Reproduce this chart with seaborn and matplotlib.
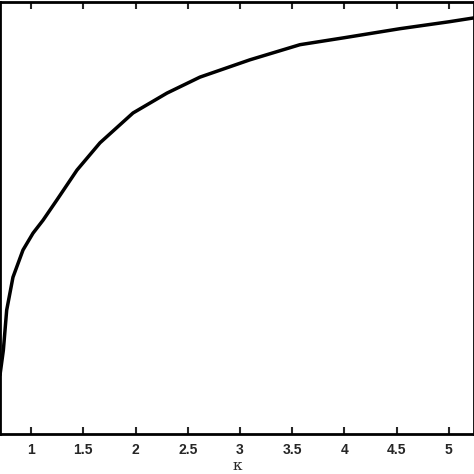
import numpy as np
import matplotlib
matplotlib.use("Agg")
import matplotlib.pyplot as plt
import seaborn as sns

# values
kappa = [0.703, 0.735, 0.767, 0.827, 0.923, 1.019, 1.115, 1.248, 1.440, 1.660, 1.976,
         2.301, 2.617, 3.095, 3.574, 3.995, 4.531, 5.0, 5.239]
value = [0.137, 0.194, 0.287, 0.363, 0.426, 0.465, 0.495, 0.542, 0.611, 0.674, 0.743,
         0.789, 0.826, 0.866, 0.901, 0.917, 0.938, 0.954, 0.963]
xticks = [1, 1.5, 2, 2.5, 3, 3.5, 4, 4.5, 5]
xticklabels = ["1", "1.5", "2", "2.5", "3", "3.5", "4", "4.5", "5"]

sns.set_style("white")
plt.rcParams['font.family'] = ['Liberation Sans', 'DejaVu Sans']

fig = plt.figure(figsize=(4.74, 4.74), dpi=100)
ax = fig.add_axes([0.0, 0.084, 1.0, 0.912])
sns.lineplot(x=kappa, y=value, ax=ax, color='black', linewidth=2.5)
ax.set_xlim(0.703, 5.24)
ax.set_ylim(0, 1)
ax.set_xticks(xticks)
ax.set_xticklabels(xticklabels, fontweight='bold', fontsize=10)
ax.set_yticks([])
ax.tick_params(axis='x', direction='in', length=5, width=1.5, top=True, bottom=True, pad=6)
for s in ax.spines.values():
    s.set_linewidth(2)
    s.set_color('black')
ax.set_xlabel('κ', family='DejaVu Serif', fontsize=11, labelpad=2)
fig.savefig('out.png', dpi=100)
